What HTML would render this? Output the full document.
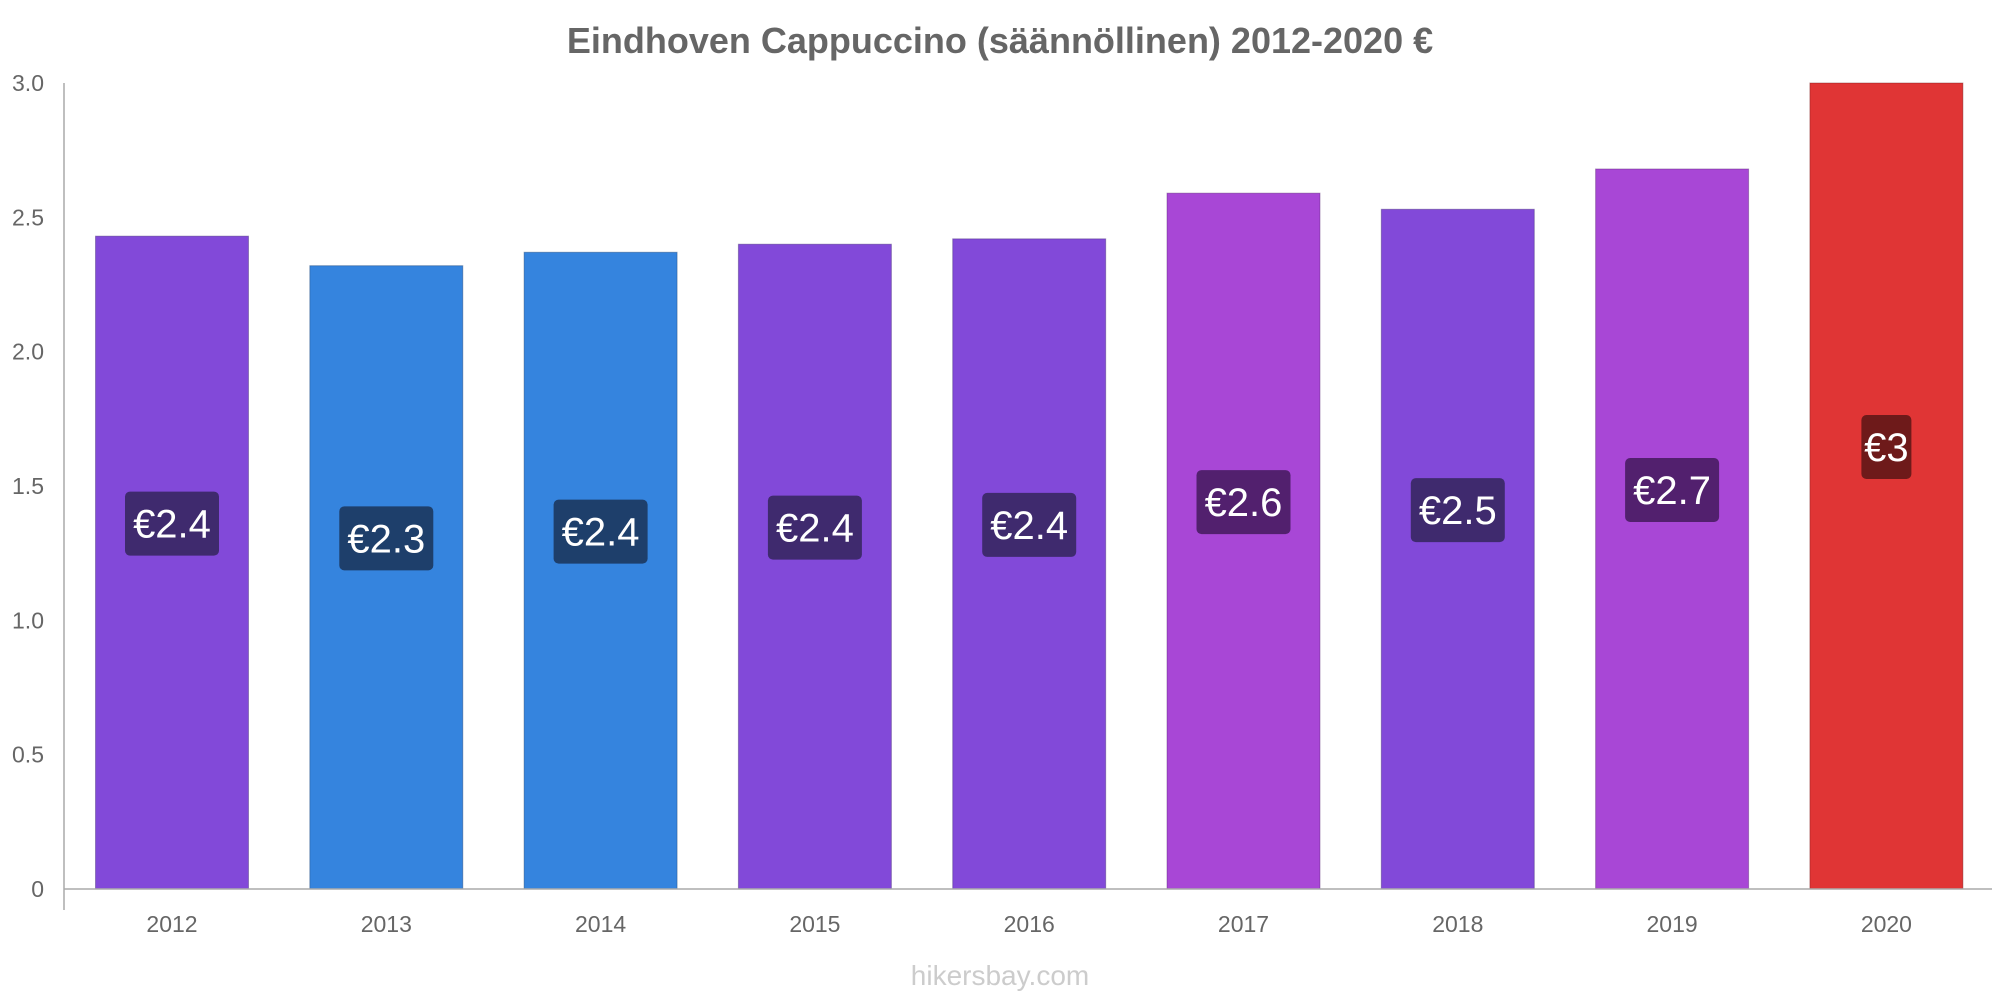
<!DOCTYPE html>
<html><head><meta charset="utf-8"><style>
body{margin:0;background:#fff;}
svg{display:block;font-family:"Liberation Sans",sans-serif;}
</style></head><body>
<svg id="chart" width="2000" height="1000" viewBox="0 0 2000 1000">
<text x="1000" y="53" text-anchor="middle" font-size="36" font-weight="bold" fill="#666">Eindhoven Cappuccino (säännöllinen) 2012-2020 €</text>
<g id="yticks"></g>
<g id="bars"></g>
<line x1="64" y1="83" x2="64" y2="910" stroke="#aaa" stroke-width="1.5"/>
<line x1="64" y1="889" x2="1992" y2="889" stroke="#aaa" stroke-width="1.5"/>
<text x="1000" y="985" text-anchor="middle" font-size="28" fill="#ccc">hikersbay.com</text>
</svg>
<script>
const categories=["2012","2013","2014","2015","2016","2017","2018","2019","2020"];
const values=[2.43,2.32,2.37,2.40,2.42,2.59,2.53,2.68,3.0];
const labels=["€2.4","€2.3","€2.4","€2.4","€2.4","€2.6","€2.5","€2.7","€3"];
const yTicks=[0,0.5,1.0,1.5,2.0,2.5,3.0];
const yTickLabels=["0","0.5","1.0","1.5","2.0","2.5","3.0"];
const colorKeys=["p","b","b","p","p","m","p","m","r"];
const fills={p:"#8249d9",b:"#3584de",m:"#a847d6",r:"#e03535"};
const darks={p:"#3f2a6e",b:"#1e3f6b",m:"#52206e",r:"#6e1a1a"};
const NS="http://www.w3.org/2000/svg";
const y0=889,y1=83,ymax=3.0;
const y=v=>y0-(v/ymax)*(y0-y1);
const step=214.3,x0=172;
const xc=i=>x0+i*step;
const bw=153;
const yt=document.getElementById('yticks');
yTicks.forEach((t,i)=>{
 const tx=document.createElementNS(NS,'text');
 
 
 tx.setAttribute('x',44);tx.setAttribute('y',y(t)+8);
 tx.setAttribute('text-anchor','end');tx.setAttribute('font-size','23');tx.setAttribute('fill','#666');
 tx.textContent=yTickLabels[i];yt.appendChild(tx);
});
const g=document.getElementById('bars');
categories.forEach((c,i)=>{
 const k=colorKeys[i];
 const r=document.createElementNS(NS,'rect');
 
 
 r.setAttribute('x',xc(i)-bw/2);r.setAttribute('y',y(values[i]));
 r.setAttribute('width',bw);r.setAttribute('height',y0-y(values[i]));
 r.setAttribute('fill',fills[k]);r.setAttribute('stroke',darks[k]);r.setAttribute('stroke-opacity','0.4');
 g.appendChild(r);
 const cy=(y0+y(values[i]))/2-39;
 const tw=labels[i].length*22+6;
 const lb=document.createElementNS(NS,'rect');
 
 
 lb.setAttribute('x',xc(i)-tw/2);lb.setAttribute('y',cy-32);
 lb.setAttribute('width',tw);lb.setAttribute('height',64);lb.setAttribute('rx',5);
 lb.setAttribute('fill',darks[k]);
 g.appendChild(lb);
 const lt=document.createElementNS(NS,'text');
 
 
 lt.setAttribute('x',xc(i));lt.setAttribute('y',cy+14);
 lt.setAttribute('text-anchor','middle');lt.setAttribute('font-size','40');lt.setAttribute('fill','#fff');
 lt.textContent=labels[i];g.appendChild(lt);
 const xt=document.createElementNS(NS,'text');
 
 
 xt.setAttribute('x',xc(i));xt.setAttribute('y',932);
 xt.setAttribute('text-anchor','middle');xt.setAttribute('font-size','23');xt.setAttribute('fill','#666');
 xt.textContent=c;g.appendChild(xt);
});
</script>
</body></html>
